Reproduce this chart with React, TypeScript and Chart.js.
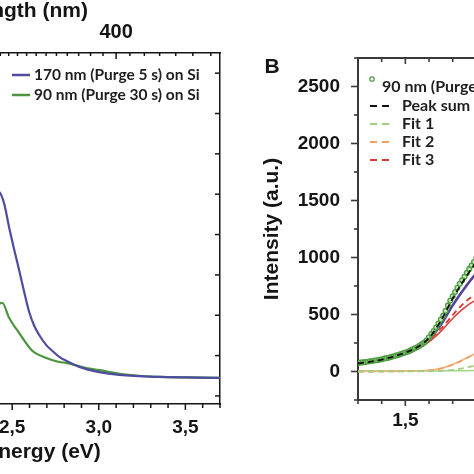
import React, { useEffect, useRef } from 'react';
import { Chart, registerables } from 'chart.js';
Chart.register(...registerables);

// ---------- Panel A (absorption vs energy) ----------
const seriesALabels = ['170 nm (Purge 5 s) on Si', '90 nm (Purge 30 s) on Si'];
const seriesAColors = ['#4d4c9f', '#4b963c'];
const blueEnergy = [2.30, 2.38, 2.425, 2.454, 2.483, 2.512, 2.540, 2.569, 2.598, 2.627, 2.656, 2.697, 2.731, 2.772, 2.812, 2.887, 3.003, 3.118, 3.350, 3.700];
const blueAbs = [0.49, 0.512, 0.506, 0.476, 0.416, 0.362, 0.312, 0.258, 0.208, 0.174, 0.151, 0.126, 0.112, 0.097, 0.087, 0.072, 0.059, 0.052, 0.047, 0.045];
const greenEnergy = [2.30, 2.40, 2.425, 2.442, 2.483, 2.540, 2.616, 2.697, 2.772, 2.812, 2.928, 3.003, 3.118, 3.350, 3.700];
const greenAbs = [0.215, 0.222, 0.228, 0.231, 0.193, 0.156, 0.112, 0.094, 0.084, 0.082, 0.069, 0.064, 0.055, 0.047, 0.045];
const energyMajor = [2.0, 2.5, 3.0, 3.5];
const energyMinor = [1.7, 1.8, 1.9, 2.0, 2.1, 2.2, 2.3, 2.4, 2.5, 2.6, 2.7, 2.8, 2.9, 3.0, 3.1, 3.2, 3.3, 3.4, 3.5, 3.6, 3.7];
const wavelengthLabels = [400, 600];
const wavelengthMinor = [340, 350, 360, 370, 380, 390, 400, 410, 420, 430, 440, 450, 460, 470, 480, 490, 500, 510, 520, 530, 540, 550, 560, 570, 580, 590, 600, 610, 620, 630, 640, 650, 660, 670, 680, 690, 700, 710, 720, 730, 740, 750];
const absTicks = [0, 0.1, 0.2, 0.3, 0.4, 0.5, 0.6, 0.7, 0.8];

// ---------- Panel B (intensity vs energy) ----------
const dataLabel = '90 nm (Purge 30 s) on Si';
const dataEnergy = [1.30, 1.31, 1.32, 1.33, 1.34, 1.35, 1.36, 1.37, 1.38, 1.39, 1.40, 1.41, 1.42, 1.43, 1.44, 1.45, 1.46, 1.47, 1.48, 1.49, 1.50, 1.51, 1.52, 1.53, 1.54, 1.55, 1.56, 1.57, 1.58, 1.59, 1.60, 1.61, 1.62, 1.63, 1.64, 1.65, 1.66, 1.67, 1.68, 1.69, 1.70, 1.71, 1.72, 1.73, 1.74, 1.75, 1.76, 1.77, 1.78, 1.79, 1.80];
const dataIntensity = [75, 78, 80, 82, 86, 90, 92, 96, 99, 102, 107, 113, 117, 121, 128, 134, 139, 144, 152, 160, 166, 173, 183, 194, 203, 213, 225, 240, 255, 274, 300, 328, 355, 386, 420, 456, 490, 533, 580, 622, 660, 697, 735, 770, 800, 832, 865, 900, 930, 960, 995];
const fitEnergy = [1.30, 1.35, 1.40, 1.45, 1.50, 1.55, 1.60, 1.65, 1.70, 1.75, 1.80, 1.85];
const peakSum = [70, 85, 104, 132, 165, 213, 295, 445, 640, 810, 960, 1080];
const fit1 = [0, 0, 0, 1, 1, 2, 3, 6, 14, 30, 55, 85];
const fit2 = [0, 0, 1, 2, 3, 5, 9, 25, 60, 108, 165, 230];
const fit3 = [64, 79, 99, 126, 158, 206, 278, 375, 495, 605, 680, 730];
const otherSum = [68, 82, 100, 126, 158, 205, 280, 410, 580, 730, 860, 960];
const otherFit3 = [60, 75, 95, 120, 150, 195, 260, 352, 465, 560, 630, 680];
const otherFit2 = [2, 2, 3, 3, 4, 6, 12, 28, 62, 110, 162, 220];
const otherFit1 = [4, 4, 4, 4, 4, 5, 5, 5, 6, 7, 9, 12];
const intensityMajor = [0, 500, 1000, 1500, 2000, 2500];
const intensityMinor = [-250, 0, 250, 500, 750, 1000, 1250, 1500, 1750, 2000, 2250, 2500, 2750];
const bEnergyMajor = [1.5, 2.0];
const bEnergyMinor = [1.3, 1.4, 1.5, 1.6, 1.7, 1.8, 1.9, 2.0, 2.1, 2.2, 2.3];

const pts = (xs: number[], ys: number[]) => xs.map((x, i) => ({ x, y: ys[i] }));
const FONT = 'Liberation Sans, Arial, sans-serif';
const LEG_FONT = 'Lato, "Open Sans", sans-serif';
const INK = '#151515';

type TickSpec = { axis: string; values: number[]; major: number[]; inward: boolean; majorLen: number; minorLen: number };

function tickMarksPlugin(specs: TickSpec[], color: string, width: number) {
  return {
    id: 'tickMarks',
    afterDraw(chart: any) {
      const { ctx, chartArea: ca } = chart;
      ctx.save();
      ctx.strokeStyle = color;
      ctx.lineWidth = width;
      for (const s of specs) {
        const scale = chart.scales[s.axis];
        const horiz = scale.isHorizontal();
        const pos = scale.position;
        for (const v of s.values) {
          const p = scale.getPixelForValue(v);
          const isMajor = s.major.some((m) => Math.abs(m - v) < 1e-6);
          const len = isMajor ? s.majorLen : s.minorLen;
          if (horiz) {
            if (p < ca.left - 1 || p > ca.right + 1) continue;
            const base = pos === 'top' ? ca.top : ca.bottom;
            const dir = (pos === 'top' ? 1 : -1) * (s.inward ? 1 : -1);
            ctx.beginPath();
            ctx.moveTo(p, base);
            ctx.lineTo(p, base + dir * len);
            ctx.stroke();
          } else {
            if (p < ca.top - 1 || p > ca.bottom + 1) continue;
            const base = pos === 'left' ? ca.left : ca.right;
            const dir = (pos === 'left' ? 1 : -1) * (s.inward ? 1 : -1);
            ctx.beginPath();
            ctx.moveTo(base, p);
            ctx.lineTo(base + dir * len, p);
            ctx.stroke();
          }
        }
      }
      ctx.restore();
    },
  };
}

type LegItem = { ds: number; kind: 'line' | 'dash' | 'circle'; x0: number; x1: number; tx: number; y: number; my?: number };

function legendPlugin(items: LegItem[], anchor: 'left' | 'right', font: string) {
  return {
    id: 'customLegend',
    afterDraw(chart: any) {
      const { ctx, chartArea: ca } = chart;
      const ox = anchor === 'left' ? ca.left : ca.right;
      const oy = ca.top;
      ctx.save();
      for (const it of items) {
        const ds = chart.data.datasets[it.ds];
        const color = ds.borderColor as string;
        ctx.strokeStyle = color;
        if (it.kind === 'circle') {
          ctx.lineWidth = 1.3;
          ctx.setLineDash([]);
          ctx.beginPath();
          ctx.arc(ox + (it.x0 + it.x1) / 2, oy + (it.my ?? it.y), 2.2, 0, Math.PI * 2);
          ctx.stroke();
        } else {
          ctx.lineWidth = it.kind === 'line' ? 2.5 : 2;
          ctx.setLineDash(it.kind === 'dash' ? [7, 5] : []);
          ctx.beginPath();
          ctx.moveTo(ox + it.x0, oy + it.y);
          ctx.lineTo(ox + it.x1, oy + it.y);
          ctx.stroke();
        }
        ctx.setLineDash([]);
        ctx.font = font;
        ctx.fillStyle = '#1e1e1e';
        ctx.textAlign = 'left';
        ctx.textBaseline = 'middle';
        ctx.fillText(ds.label, ox + it.tx, oy + it.y);
      }
      ctx.restore();
    },
  };
}

type TextItem = { text: string; dx: number; y: number; align: CanvasTextAlign; font: string };
function textPlugin(items: TextItem[], anchor: 'left' | 'right') {
  return {
    id: 'extraText',
    afterDraw(chart: any) {
      const { ctx, chartArea: ca } = chart;
      const ox = anchor === 'left' ? ca.left : ca.right;
      ctx.save();
      for (const t of items) {
        ctx.font = t.font;
        ctx.fillStyle = INK;
        ctx.textAlign = t.align;
        ctx.textBaseline = 'middle';
        ctx.fillText(t.text, ox + t.dx, t.y);
      }
      ctx.restore();
    },
  };
}

const commaFmt = (v: number) => Number(v).toFixed(1).replace('.', ',');

function leftConfig(): any {
  const border = { display: true, color: INK, width: 1.5 };
  const tickFont = { family: FONT, size: 19, weight: 'bold' as const };
  const xMin = 1.65, xMax = 3.7, yMin = -0.02, yMax = 0.85;
  return {
    type: 'line',
    data: {
      datasets: [
        { label: seriesALabels[0], data: pts(blueEnergy, blueAbs), borderColor: seriesAColors[0], borderWidth: 2.2, pointRadius: 0, cubicInterpolationMode: 'monotone', fill: false },
        { label: seriesALabels[1], data: pts(greenEnergy, greenAbs), borderColor: seriesAColors[1], borderWidth: 2.2, pointRadius: 0, cubicInterpolationMode: 'monotone', fill: false },
      ],
    },
    options: {
      responsive: false,
      animation: false,
      layout: { padding: 0 },
      plugins: { legend: { display: false }, tooltip: { enabled: false }, title: { display: false } },
      scales: {
        x: {
          type: 'linear', position: 'bottom', min: xMin, max: xMax,
          grid: { display: false }, border,
          ticks: { autoSkip: false, maxRotation: 0, padding: 4, color: INK, font: tickFont, callback: (v: number) => commaFmt(v) },
          afterBuildTicks: (s: any) => { s.ticks = energyMajor.map((e) => ({ value: e })); },
          title: { display: true, text: 'Energy (eV)', color: INK, font: { family: FONT, size: 21, weight: 'bold' }, padding: { top: 0, bottom: 9 } },
          afterFit: (s: any) => { s.height = 70; },
        },
        x2: {
          type: 'linear', position: 'top', min: xMin, max: xMax,
          grid: { display: false }, border,
          ticks: { autoSkip: false, maxRotation: 0, padding: 1, color: INK, font: { family: FONT, size: 20, weight: 'bold' }, callback: (v: number) => String(Math.round(1240 / v)) },
          afterBuildTicks: (s: any) => { s.ticks = wavelengthLabels.map((w) => ({ value: 1240 / w })); },
          afterFit: (s: any) => { s.height = 53; },
        },
        y: {
          type: 'linear', position: 'left', min: yMin, max: yMax,
          grid: { display: false }, border, ticks: { display: false },
          afterFit: (s: any) => { s.width = 65; },
        },
        y2: {
          type: 'linear', position: 'right', min: yMin, max: yMax,
          grid: { display: false }, border, ticks: { display: false },
          afterFit: (s: any) => { s.width = 6; },
        },
      },
    },
    plugins: [
      tickMarksPlugin([
        { axis: 'x', values: energyMinor, major: energyMajor, inward: false, majorLen: 6, minorLen: 4 },
        { axis: 'x2', values: wavelengthMinor.map((w) => 1240 / w), major: wavelengthLabels.map((w) => 1240 / w), inward: true, majorLen: 6, minorLen: 3 },
        { axis: 'y2', values: absTicks, major: absTicks, inward: true, majorLen: 5, minorLen: 5 },
        { axis: 'y', values: absTicks, major: absTicks, inward: false, majorLen: 5, minorLen: 5 },
      ], INK, 1.5),
      legendPlugin([
        { ds: 0, kind: 'line', x0: -208, x1: -190, tx: -186, y: 22 },
        { ds: 1, kind: 'line', x0: -208, x1: -190, tx: -186, y: 42 },
      ], 'right', `bold 15.5px ${LEG_FONT}`),
      textPlugin([
        { text: 'Wavelength (nm)', dx: -132, y: 11, align: 'right', font: `bold 21px ${FONT}` },
      ], 'right'),
    ],
  };
}

function rightConfig(): any {
  const border = { display: true, color: '#3a3a3a', width: 2 };
  const tickFont = { family: FONT, size: 19, weight: 'bold' as const };
  const xMin = 1.3, xMax = 2.3, yMin = -250, yMax = 2750;
  const line = (label: string, xs: number[], ys: number[], color: string, width: number, dash: number[]) => ({
    label, data: pts(xs, ys), borderColor: color, borderWidth: width, borderDash: dash, pointRadius: 0, cubicInterpolationMode: 'monotone', fill: false, showLine: true,
  });
  return {
    type: 'line',
    data: {
      datasets: [
        line('Peak sum', fitEnergy, peakSum, '#111111', 1.8, [6, 4]),
        { label: dataLabel, data: pts(dataEnergy, dataIntensity), borderColor: '#4f9f45', backgroundColor: 'rgba(150,205,120,0.55)', borderWidth: 1.3, pointRadius: 2.4, pointStyle: 'circle', showLine: false },
        line('Fit 1', fitEnergy, fit1, '#9fcf7f', 1.8, [6, 4]),
        line('Fit 2', fitEnergy, fit2, '#f0a062', 1.8, [6, 4]),
        line('Fit 3', fitEnergy, fit3, '#d83a36', 1.8, [6, 4]),
        line('', fitEnergy, otherFit3, '#d9403a', 1.5, []),
        line('', fitEnergy, otherSum, '#55409e', 2.6, []),
        line('', fitEnergy, otherFit2, '#f2b07a', 1.5, []),
        line('', fitEnergy, otherFit1, '#a6d68a', 1.5, []),
      ],
    },
    options: {
      responsive: false,
      animation: false,
      layout: { padding: 0 },
      plugins: { legend: { display: false }, tooltip: { enabled: false }, title: { display: false } },
      scales: {
        x: {
          type: 'linear', position: 'bottom', min: xMin, max: xMax,
          grid: { display: false }, border,
          ticks: { autoSkip: false, maxRotation: 0, padding: 1, color: INK, font: tickFont, callback: (v: number) => commaFmt(v) },
          afterBuildTicks: (s: any) => { s.ticks = bEnergyMajor.map((e) => ({ value: e })); },
          afterFit: (s: any) => { s.height = 74; },
        },
        x2: {
          type: 'linear', position: 'top', min: xMin, max: xMax,
          grid: { display: false }, border, ticks: { display: false },
          afterFit: (s: any) => { s.height = 58; },
        },
        y: {
          type: 'linear', position: 'left', min: yMin, max: yMax,
          grid: { display: false }, border,
          ticks: { autoSkip: false, padding: 10, color: INK, font: tickFont, callback: (v: number) => String(v) },
          afterBuildTicks: (s: any) => { s.ticks = intensityMajor.map((v) => ({ value: v })); },
          title: { display: true, text: 'Intensity (a.u.)', color: INK, font: { family: FONT, size: 21, weight: 'bold' }, padding: { top: 23, bottom: 0 } },
          afterFit: (s: any) => { s.width = 121; },
        },
        y2: {
          type: 'linear', position: 'right', min: yMin, max: yMax,
          grid: { display: false }, border, ticks: { display: false },
          afterFit: (s: any) => { s.width = 5; },
        },
      },
    },
    plugins: [
      tickMarksPlugin([
        { axis: 'y', values: intensityMinor, major: intensityMajor, inward: false, majorLen: 7, minorLen: 4 },
        { axis: 'x', values: bEnergyMinor, major: bEnergyMajor, inward: false, majorLen: 6, minorLen: 4 },
        { axis: 'x2', values: bEnergyMinor, major: bEnergyMajor, inward: true, majorLen: 6, minorLen: 4 },
      ], '#3a3a3a', 1.6),
      legendPlugin([
        { ds: 1, kind: 'circle', x0: 12, x1: 16, tx: 24, y: 29, my: 21 },
        { ds: 0, kind: 'dash', x0: 12, x1: 31, tx: 44, y: 48 },
        { ds: 2, kind: 'dash', x0: 12, x1: 31, tx: 44, y: 66 },
        { ds: 3, kind: 'dash', x0: 12, x1: 31, tx: 44, y: 84 },
        { ds: 4, kind: 'dash', x0: 12, x1: 31, tx: 44, y: 102 },
      ], 'left', `bold 16px ${LEG_FONT}`),
      textPlugin([
        { text: 'B', dx: -86, y: 67, align: 'center', font: `bold 21px ${FONT}` },
      ], 'left'),
    ],
  };
}

export default function App() {
  const leftRef = useRef<HTMLCanvasElement>(null);
  const rightRef = useRef<HTMLCanvasElement>(null);
  useEffect(() => {
    const c1 = new Chart(leftRef.current as HTMLCanvasElement, leftConfig());
    const c2 = new Chart(rightRef.current as HTMLCanvasElement, rightConfig());
    return () => {
      c1.destroy();
      c2.destroy();
    };
  }, []);
  return (
    <div style={{ position: 'fixed', left: 0, top: 0, width: 474, height: 474, overflow: 'hidden', background: '#ffffff' }}>
      <canvas ref={leftRef} width={426} height={474} style={{ position: 'absolute', left: -200, top: 0, width: 426, height: 474 }} />
      <canvas ref={rightRef} width={363} height={474} style={{ position: 'absolute', left: 237, top: 0, width: 363, height: 474 }} />
    </div>
  );
}
